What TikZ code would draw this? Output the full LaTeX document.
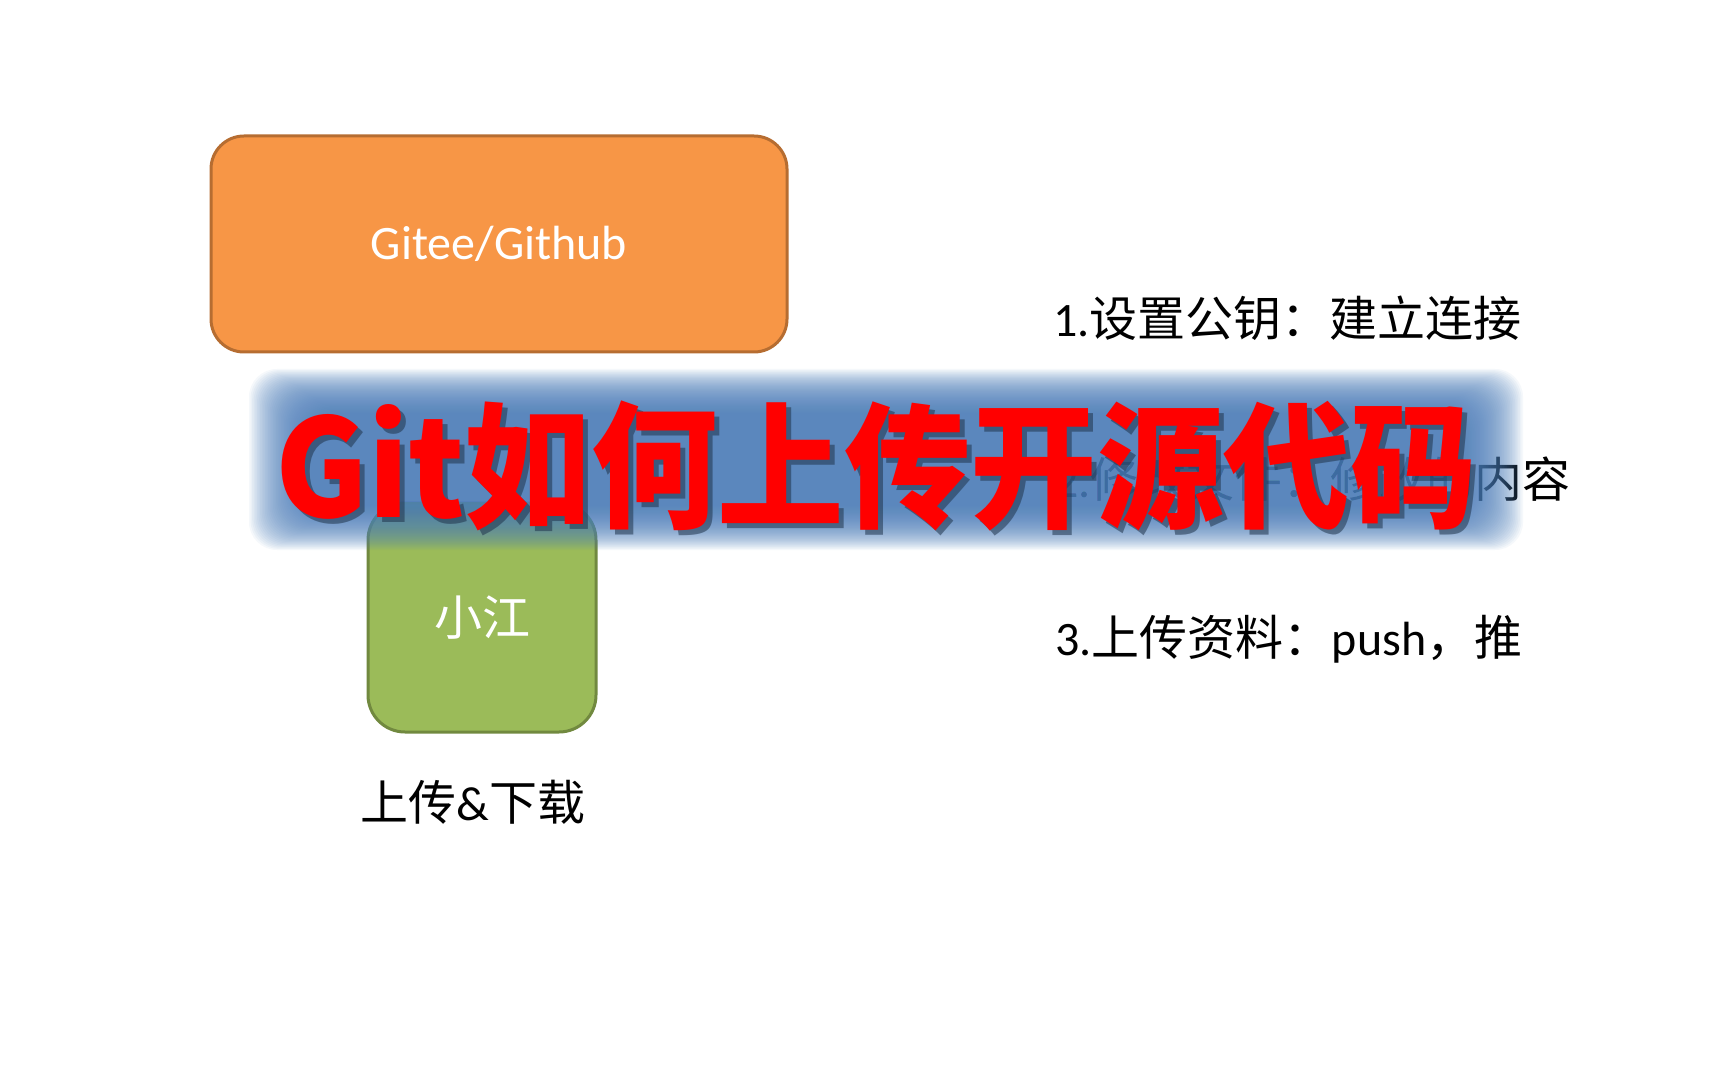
\documentclass[tikz,border=0pt]{standalone}
\usepackage{fontspec}
\setmainfont{Carlito}
\newfontfamily\cjk{Noto Sans CJK SC}
\definecolor{orfill}{HTML}{F79646}
\definecolor{ordraw}{HTML}{B66D31}
\definecolor{grfill}{HTML}{9BBB59}
\definecolor{grdraw}{HTML}{71893F}
\definecolor{glowblue}{HTML}{4F81BD}
\definecolor{titlered}{HTML}{FF0000}
\tikzset{
  box/.style={draw, line width=1.5pt, inner sep=0pt, text=white},
  body/.style={font=\fontsize{24}{28}\selectfont, inner sep=0pt, text=black},
  titletext/.style={font=\cjk\bfseries\fontsize{68}{72}\selectfont, inner sep=0pt, anchor=base}
}
\begin{document}
\begin{tikzpicture}[x=0.5pt,y=-0.5pt]
\useasboundingbox[fill=white] (0,0) rectangle (1728,1080);

% boxes
\node[box, fill=orfill, draw=ordraw, rounded corners=16.5pt,
      minimum width=288pt, minimum height=108pt,
      font=\fontsize{24}{28}\selectfont] (hub) at (499,244) {Gitee/Github};
\node[box, fill=grfill, draw=grdraw, rounded corners=18.5pt,
      minimum width=114pt, minimum height=114.5pt,
      font=\cjk\fontsize{24}{28}\selectfont] (me) at (482,617.5) {小江};
\node[body, anchor=base west] (updown) at (360,820) {\cjk 上传{\rmfamily\&}下载};

% steps
\node[body, anchor=base west] (s1) at (1053,337) {1.{\cjk 设置公钥：建立连接}};
\node[body, anchor=base west] (s2) at (1054,497) {2.{\cjk 修改文件：修改的内容}};
\node[body, anchor=base west] (s3) at (1055,655) {3.{\cjk 上传资料：}push{\cjk ，推}};

% glowing banner
\foreach \i in {0,...,39} {
  \fill[glowblue, opacity=0.056, rounded corners=14pt]
    (249+1.6*\i, 369+1.15*\i) rectangle (1523-1.6*\i, 550-1.15*\i);
}

% title with shadow
\node[titletext, text=black!60!glowblue, opacity=0.55, xscale=0.93, transform shape] (titleshadow) at (881,522) {Git如何上传开源代码};
\node[titletext, text=titlered, xscale=0.93, transform shape] (title) at (876,517) {Git如何上传开源代码};
\end{tikzpicture}
\end{document}
